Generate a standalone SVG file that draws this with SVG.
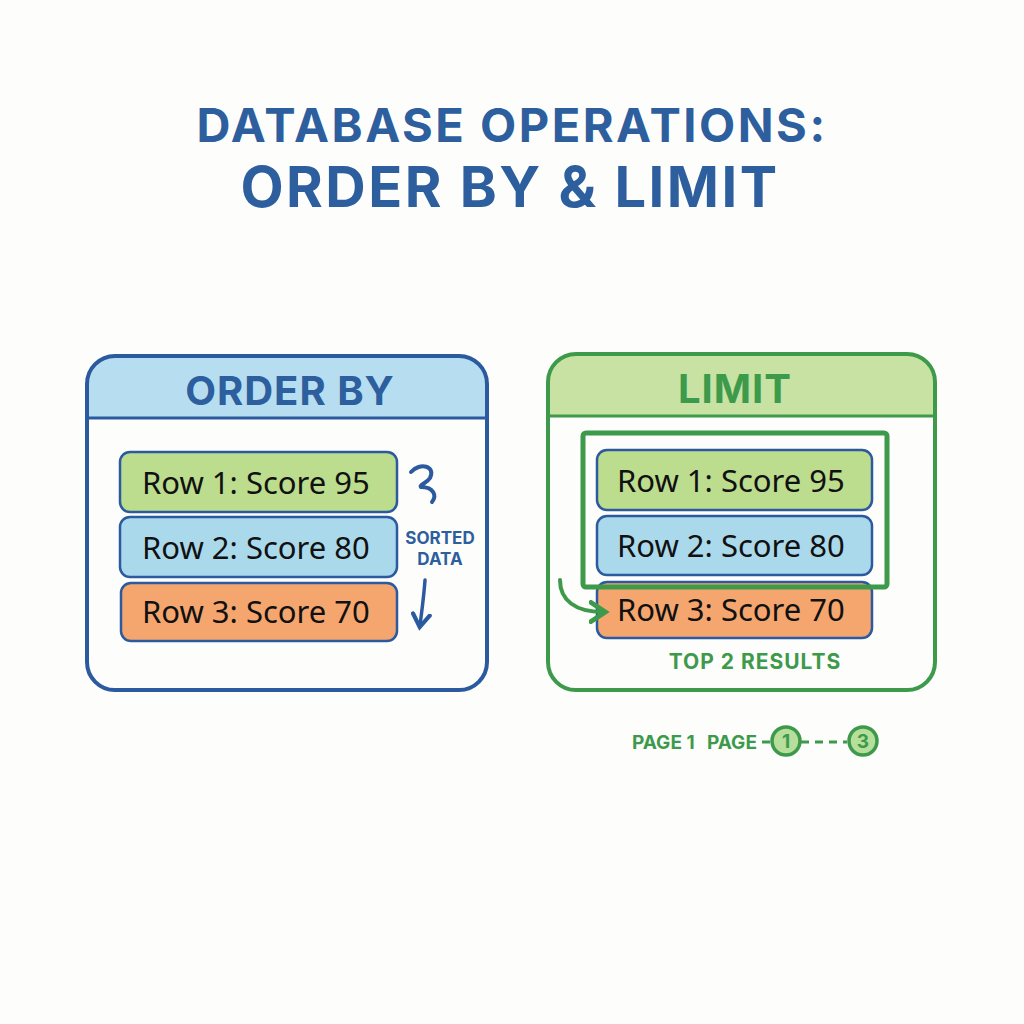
<svg xmlns="http://www.w3.org/2000/svg" width="1024" height="1024" viewBox="0 0 1024 1024">
<defs>
<style>
.title{font-family:"Inter","Liberation Sans",sans-serif;font-weight:700;fill:#2d5f9e;text-anchor:middle;letter-spacing:2.5px}
.row{font-family:"Noto Sans","Liberation Sans",sans-serif;font-size:31px;fill:#111}
.blue{stroke:#2c5a9e}
.green{stroke:#3d9a4b}
.gt{font-family:"Inter","Liberation Sans",sans-serif;font-weight:700;fill:#3d9a4b}
.bt{font-family:"Inter","Liberation Sans",sans-serif;font-weight:700;fill:#2d5f9e}
</style>
<marker id="ab" viewBox="0 0 10 10" refX="6" refY="5" markerWidth="6" markerHeight="6" orient="auto"><path d="M1,1 L7,5 L1,9" fill="none" stroke="#2c5a9e" stroke-width="2" stroke-linecap="round"/></marker>
<marker id="ag" viewBox="0 0 10 10" refX="6" refY="5" markerWidth="6" markerHeight="6" orient="auto"><path d="M1,1 L7,5 L1,9" fill="none" stroke="#3d9a4b" stroke-width="2" stroke-linecap="round"/></marker>
</defs>
<rect width="1024" height="1024" fill="#fdfdfc"/>
<text class="title" x="512" y="142" font-size="47">DATABASE OPERATIONS:</text>
<text class="title" x="510" y="207" font-size="56">ORDER BY &amp; LIMIT</text>

<g id="order-by">
<path d="M87,418 V384 a28,28 0 0 1 28,-28 H459 a28,28 0 0 1 28,28 V418 Z" fill="#b7def0"/>
<rect x="87" y="356" width="400" height="334" rx="28" fill="none" class="blue" stroke-width="4"/>
<line x1="87" y1="418" x2="487" y2="418" class="blue" stroke-width="3"/>
<text class="bt" x="290" y="405" font-size="40" text-anchor="middle" letter-spacing="1">ORDER BY</text>
</g>
<g id="ob-row1"><rect x="120" y="452" width="277" height="60" rx="10" fill="#bcdc8e" class="blue" stroke-width="2.5"/><text class="row" x="142" y="494">Row 1: Score 95</text></g>
<g id="ob-row2"><rect x="120" y="517" width="277" height="60" rx="10" fill="#abd9ec" class="blue" stroke-width="2.5"/><text class="row" x="142" y="559">Row 2: Score 80</text></g>
<g id="ob-row3"><rect x="121" y="583" width="276" height="58" rx="10" fill="#f4a66e" class="blue" stroke-width="2.5"/><text class="row" x="142" y="623">Row 3: Score 70</text></g>
<g id="sorted-label">
<text class="bt" x="440" y="544" font-size="17" text-anchor="middle">SORTED</text>
<text class="bt" x="440" y="565" font-size="17" text-anchor="middle">DATA</text>
</g>

<g id="limit">
<path d="M548,416 V382 a28,28 0 0 1 28,-28 H907 a28,28 0 0 1 28,28 V416 Z" fill="#c8e2a3"/>
<rect x="548" y="354" width="387" height="336" rx="28" fill="none" class="green" stroke-width="4"/>
<line x1="548" y1="416" x2="935" y2="416" class="green" stroke-width="3"/>
<text class="gt" x="735" y="403" font-size="40" text-anchor="middle" letter-spacing="1">LIMIT</text>
</g>
<g id="lim-row1"><rect x="597" y="450" width="275" height="60" rx="10" fill="#bcdc8e" class="blue" stroke-width="2.5"/><text class="row" x="617" y="492">Row 1: Score 95</text></g>
<g id="lim-row2"><rect x="597" y="516" width="275" height="59" rx="10" fill="#abd9ec" class="blue" stroke-width="2.5"/><text class="row" x="617" y="557">Row 2: Score 80</text></g>
<g id="lim-row3"><rect x="597" y="582" width="275" height="56" rx="10" fill="#f4a66e" class="blue" stroke-width="2.5"/><text class="row" x="617" y="621">Row 3: Score 70</text></g>
<g id="top2-box"><rect x="583" y="433" width="304" height="154" rx="3" fill="none" class="green" stroke-width="5"/></g>
<g id="top2-label"><text class="gt" x="755" y="669" font-size="21" text-anchor="middle" letter-spacing="1">TOP 2 RESULTS</text></g>

<g id="pagination">
<text class="gt" x="632" y="749" font-size="19">PAGE 1</text>
<text class="gt" x="707" y="749" font-size="19">PAGE</text>
<line x1="762" y1="742" x2="770" y2="742" class="green" stroke-width="3"/>
<line x1="801" y1="742" x2="847" y2="742" class="green" stroke-width="3" stroke-dasharray="8,6"/>
<g id="page-1"><circle cx="786" cy="741" r="14" fill="#b8de9c" class="green" stroke-width="3.5"/><text class="gt" x="786" y="748" font-size="19" text-anchor="middle">1</text></g>
<g id="page-3"><circle cx="863" cy="741" r="14" fill="#b8de9c" class="green" stroke-width="3.5"/><text class="gt" x="863" y="748" font-size="19" text-anchor="middle">3</text></g>
</g>

<g id="connectors" fill="none" stroke-linecap="round" stroke-linejoin="round">
<path d="M411,472 C420,462 436,466 430,478 C427,483 419,485 421,487 C434,487 437,496 432,502" stroke="#2c5a9e" stroke-width="4"/>
<path d="M425,580 C424,595 422,610 420,625" stroke="#2c5a9e" stroke-width="3.5" marker-end="url(#ab)"/>
<path d="M560,580 C560,600 575,612 603,612" stroke="#3d9a4b" stroke-width="4" marker-end="url(#ag)"/>
</g>
</svg>
